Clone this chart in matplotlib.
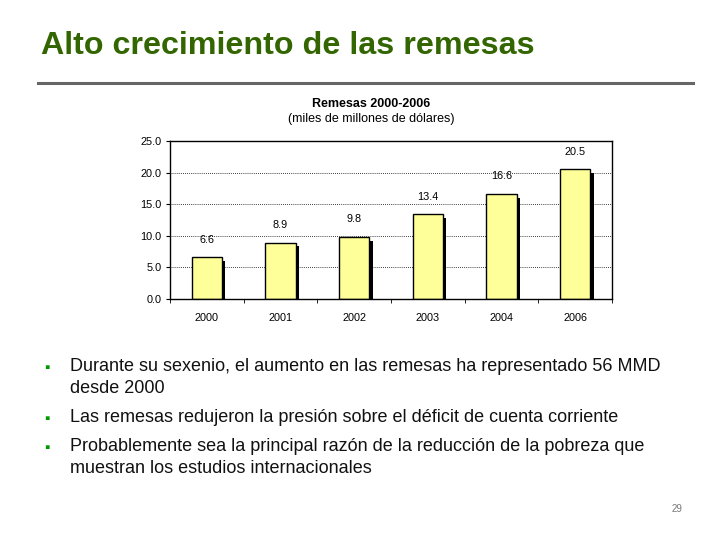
import matplotlib
matplotlib.use("Agg")
import matplotlib.pyplot as plt
import matplotlib.transforms as mtransforms
import numpy as np

plt.rcParams['font.family'] = ['Liberation Sans', 'DejaVu Sans']

years = ["2000", "2001", "2002", "2003", "2004", "2006"]
remesas = [6.6, 8.9, 9.8, 13.4, 16.6, 20.5]
yticks = [0.0, 5.0, 10.0, 15.0, 20.0, 25.0]

bullets = [
    "Durante su sexenio, el aumento en las remesas ha representado 56 MMD\ndesde 2000",
    "Las remesas redujeron la presión sobre el déficit de cuenta corriente",
    "Probablemente sea la principal razón de la reducción de la pobreza que\nmuestran los estudios internacionales",
]

W, H = 728, 546
fig = plt.figure(figsize=(W / 100, H / 100), dpi=100)
fig.patch.set_facecolor("white")

# slide title + rule
fig.text(41 / W, 1 - 46 / H, "Alto crecimiento de las remesas", color="#336600",
         fontsize=23.2, fontweight="bold", va="center", ha="left")
fig.add_artist(plt.Line2D([38 / W, 693 / W], [1 - 83 / H, 1 - 83 / H],
                          color="#666666", lw=2.2, transform=fig.transFigure))

# chart
ax = fig.add_axes([170 / W, (H - 299) / H, 442 / W, 158 / H])
x = np.arange(len(years))
shadow = ax.transData + mtransforms.ScaledTranslation(0.035, -0.035, fig.dpi_scale_trans)
ax.bar(x, remesas, width=0.41, color="black", transform=shadow, zorder=2)
ax.bar(x, remesas, width=0.41, color="#FFFF99", edgecolor="black", linewidth=1.0, zorder=3)
for xi, v in zip(x, remesas):
    ax.text(xi, v + 2.0, f"{v:.1f}", ha="center", va="bottom", fontsize=7.8)

ax.set_xlim(-0.5, len(years) - 0.5)
ax.set_ylim(0, 25)
ax.set_yticks(yticks)
ax.set_yticklabels([f"{t:.1f}" for t in yticks], fontsize=7.8)
ax.set_xticks(x)
ax.set_xticklabels(years, fontsize=7.8)
ax.set_xticks(np.arange(len(years) + 1) - 0.5, minor=True)
ax.tick_params(axis="x", which="major", length=0, pad=10)
ax.tick_params(axis="x", which="minor", length=3, direction="out")
ax.tick_params(axis="y", length=3, direction="out", pad=3)
for t in yticks[1:-1]:
    ax.axhline(t, color="black", lw=0.6, ls=(0, (1, 1.5)), zorder=1)
for s in ax.spines.values():
    s.set_linewidth(1.0)
    s.set_zorder(4)

fig.text(371 / W, 1 - 104 / H, "Remesas 2000-2006", fontsize=9, fontweight="bold",
         ha="center", va="center")
fig.text(371 / W, 1 - 119 / H, "(miles de millones de dólares)", fontsize=9,
         ha="center", va="center")

# bullets
ys = [365, 416, 445]
for yb, txt in zip(ys, bullets):
    fig.text(47 / W, 1 - (yb + 3) / H, "\u25aa", color="#009900", fontsize=11,
             ha="center", va="center")
    fig.text(70 / W, 1 - (yb - 7) / H, txt, fontsize=13, ha="left", va="top",
             linespacing=1.4, color="#111111")

fig.text(677 / W, 1 - 509 / H, "29", fontsize=7, color="#777777", ha="center", va="center")

fig.savefig("out.png", dpi=100)
